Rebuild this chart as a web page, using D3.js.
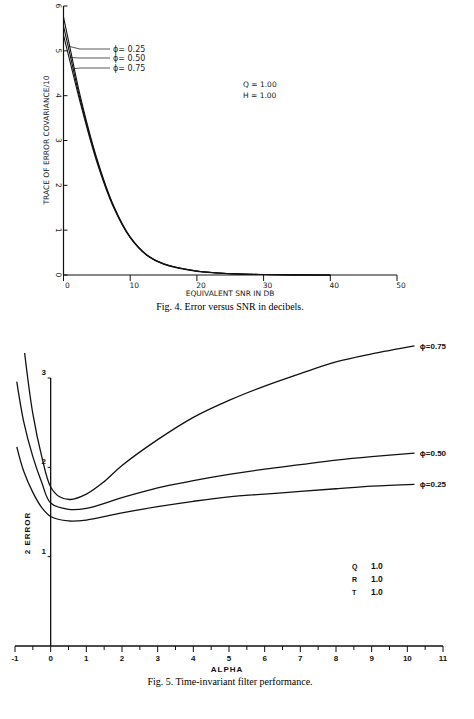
<!DOCTYPE html>
<html><head><meta charset="utf-8">
<script src="https://cdn.jsdelivr.net/npm/d3@7"></script>
<style>body{margin:0;background:#fff}</style></head>
<body><svg id="c" width="474" height="719"></svg>
<script>
// Fig 4 data
const snr = [0, 1, 2.5, 5, 7.5, 10, 12.5, 15, 20, 25, 30, 40];
const phi25 = [5.75, 5.05, 4.0, 2.6, 1.55, 0.85, 0.45, 0.25, 0.09, 0.03, 0.01, 0.0];
const phi50 = [5.55, 4.9, 3.92, 2.56, 1.53, 0.84, 0.44, 0.25, 0.09, 0.03, 0.01, 0.0];
const phi75 = [5.35, 4.75, 3.85, 2.52, 1.51, 0.83, 0.44, 0.24, 0.08, 0.03, 0.01, 0.0];
const snrTicks = [0, 10, 20, 30, 40, 50];
const covTicks = [0, 1, 2, 3, 4, 5, 6];
// Fig 5 data
const a75 = [-0.73, -0.5, -0.25, 0, 0.25, 0.55, 1, 1.5, 2, 3, 4, 5, 6, 7, 8, 9, 10.2];
const e75 = [3.28, 2.6, 2.12, 1.78, 1.67, 1.64, 1.7, 1.84, 2.02, 2.31, 2.56, 2.75, 2.91, 3.05, 3.18, 3.27, 3.36];
const a50 = [-0.95, -0.75, -0.5, -0.25, 0, 0.5, 1, 2, 3, 4, 5, 6, 7, 8, 9, 10.2];
const e50 = [2.96, 2.5, 2.12, 1.83, 1.6, 1.53, 1.54, 1.66, 1.77, 1.85, 1.92, 1.98, 2.03, 2.08, 2.12, 2.16];
const a25 = [-0.95, -0.75, -0.5, -0.25, 0, 0.5, 1, 2, 3, 4, 5, 6, 7, 8, 9, 10.2];
const e25 = [2.23, 1.95, 1.72, 1.55, 1.45, 1.40, 1.41, 1.49, 1.56, 1.62, 1.67, 1.70, 1.73, 1.76, 1.79, 1.81];
const alphaTicks = d3.range(-1, 12);
const errTicks = [1, 2, 3];

const svg = d3.select("#c");
const plot = "DejaVu Sans";
const cr = d3.curveCatmullRom.alpha(0.5);
// ---------- Fig 4 ----------
const x1 = d3.scaleLinear().domain([0, 50]).range([63.5, 397]);
const y1 = d3.scaleLinear().domain([0, 6]).range([275, 6]);
const g1 = svg.append("g").attr("stroke", "#111").attr("fill", "none");
g1.append("line").attr("x1", x1(0)).attr("x2", x1(50)).attr("y1", y1(0)).attr("y2", y1(0)).attr("stroke-width", 1.2);
g1.append("line").attr("x1", x1(0)).attr("x2", x1(0)).attr("y1", y1(0)).attr("y2", y1(6)).attr("stroke-width", 1.2);
snrTicks.forEach(t => g1.append("line").attr("x1", x1(t)).attr("x2", x1(t)).attr("y1", y1(0)).attr("y2", y1(0) + 6));
covTicks.forEach(t => g1.append("line").attr("x1", x1(0)).attr("x2", x1(0) + 4).attr("y1", y1(t)).attr("y2", y1(t)));
const t1 = svg.append("g").attr("font-family", plot).attr("font-size", 7.5).attr("fill", "#222");
snrTicks.forEach(t => t1.append("text").attr("x", x1(t) + 4).attr("y", y1(0) + 13).attr("text-anchor", "middle").text(t));
covTicks.forEach(t => t1.append("text").attr("transform", `translate(${x1(0) - 8},${y1(t)}) rotate(90)`).attr("text-anchor", "middle").text(t));
t1.append("text").attr("x", 230).attr("y", 296).attr("text-anchor", "middle").text("EQUIVALENT SNR IN DB");
t1.append("text").attr("transform", "translate(49,140) rotate(-90)").attr("text-anchor", "middle").text("TRACE OF ERROR COVARIANCE/10");
t1.append("text").attr("x", 243).attr("y", 87).text("Q  = 1.00");
t1.append("text").attr("x", 243).attr("y", 98).text("H  = 1.00");
const line1 = d3.line().x((d, i) => x1(snr[i])).y(d => y1(d)).curve(cr);
[phi25, phi50, phi75].forEach(s => g1.append("path").attr("d", line1(s)).attr("stroke-width", 1.1));
const labs1 = [["ϕ= 0.25", 49, phi25], ["ϕ= 0.50", 58, phi50], ["ϕ= 0.75", 68, phi75]];
labs1.forEach(([txt, yy, s], i) => {
  t1.append("text").attr("x", 113).attr("y", yy + 3).attr("font-size", 8).text(txt);
  const tx = x1(0.8 + i * 0.3), ty = y1(5.1 - i * 0.25);
  g1.append("path").attr("d", `M110,${yy} L80,${yy} L${tx},${ty}`).attr("stroke-width", 0.7);
});
svg.append("text").attr("x", 230).attr("y", 310).attr("text-anchor", "middle").attr("font-family", "Liberation Serif").attr("font-size", 10).text("Fig. 4.   Error versus SNR in decibels.");

// ---------- Fig 5 ----------
const x2 = d3.scaleLinear().domain([-1, 11]).range([15, 443]);
const y2 = d3.scaleLinear().domain([0, 3]).range([646, 378]);
const g2 = svg.append("g").attr("stroke", "#111").attr("fill", "none");
g2.append("line").attr("x1", x2(-1)).attr("x2", x2(11)).attr("y1", y2(0)).attr("y2", y2(0)).attr("stroke-width", 1.3);
g2.append("line").attr("x1", x2(0)).attr("x2", x2(0)).attr("y1", y2(0)).attr("y2", y2(3)).attr("stroke-width", 1.3);
d3.range(-1, 11.01, 0.5).forEach(t => g2.append("line").attr("x1", x2(t)).attr("x2", x2(t)).attr("y1", y2(0)).attr("y2", y2(0) + (Number.isInteger(t) ? 6 : 4)).attr("stroke-width", 1));
errTicks.forEach(t => g2.append("line").attr("x1", x2(0) - 3).attr("x2", x2(0)).attr("y1", y2(t)).attr("y2", y2(t)));
const t2 = svg.append("g").attr("font-family", "Liberation Sans").attr("font-weight", "bold").attr("font-size", 8).attr("fill", "#111");
alphaTicks.forEach(t => t2.append("text").attr("x", x2(t)).attr("y", y2(0) + 15).attr("text-anchor", "middle").text(t));
errTicks.forEach(t => t2.append("text").attr("x", x2(0) - 7).attr("y", y2(t) - 3).attr("text-anchor", "middle").text(t));
t2.append("text").attr("x", 227).attr("y", 672).attr("text-anchor", "middle").attr("letter-spacing", 1).text("ALPHA");
t2.append("text").attr("transform", "translate(30,533) rotate(-90)").attr("text-anchor", "middle").attr("letter-spacing", 1).text("2 ERROR");
[["Q", "1.0", 569], ["R", "1.0", 582], ["T", "1.0", 595]].forEach(([k, v, yy]) => {
  t2.append("text").attr("x", 352).attr("y", yy).attr("font-size", 7).text(k);
  t2.append("text").attr("x", 371).attr("y", yy).attr("font-size", 8.5).text(v);
});
const line2 = d3.line().x(d => x2(d[0])).y(d => y2(d[1])).curve(cr);
[[a75, e75], [a50, e50], [a25, e25]].forEach(([a, e]) => g2.append("path").attr("d", line2(a.map((v, i) => [v, e[i]]))).attr("stroke-width", 1.3));
[["ϕ=0.75", e75], ["ϕ=0.50", e50], ["ϕ=0.25", e25]].forEach(([txt, e]) => t2.append("text").attr("x", x2(10.35)).attr("y", y2(e[e.length - 1]) + 3).text(txt));
svg.append("text").attr("x", 230).attr("y", 685).attr("text-anchor", "middle").attr("font-family", "Liberation Serif").attr("font-size", 10).text("Fig. 5.   Time-invariant filter performance.");
</script></body></html>
